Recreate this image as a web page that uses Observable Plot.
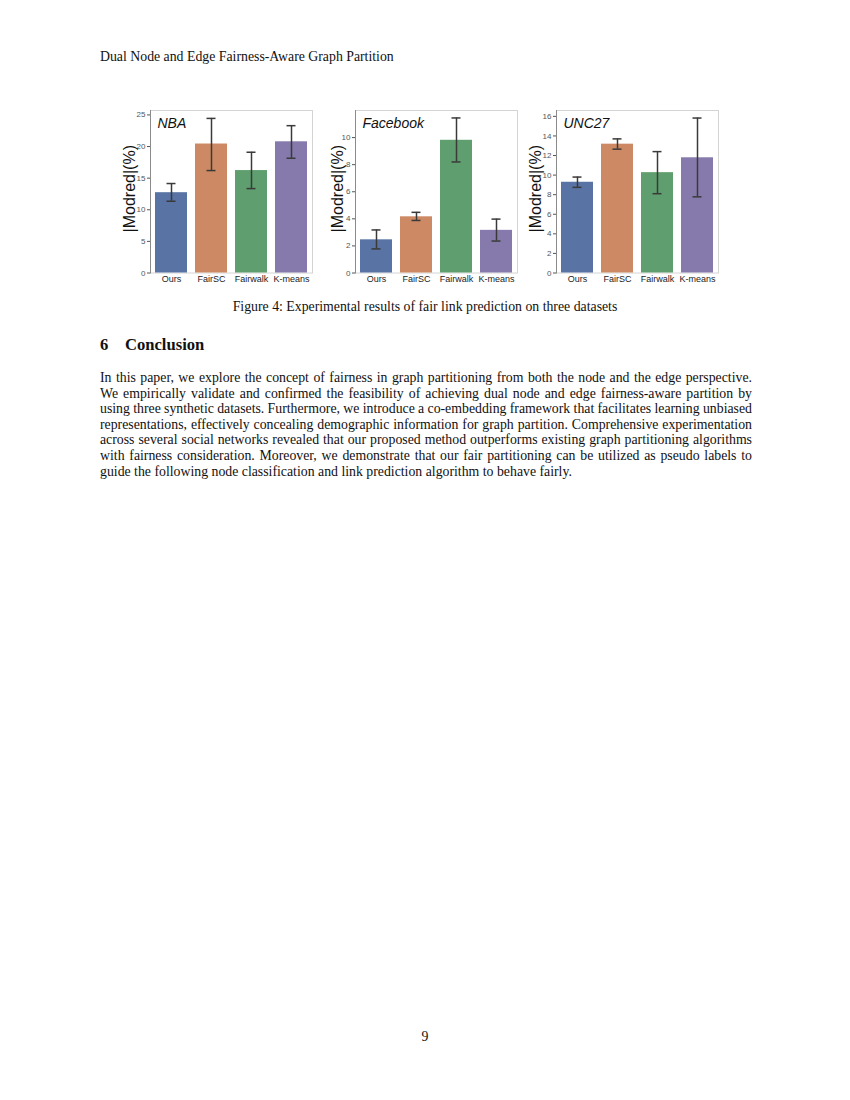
<!DOCTYPE html>
<html>
<head>
<meta charset="utf-8">
<script src="https://cdn.jsdelivr.net/npm/d3@7"></script>
<script src="https://cdn.jsdelivr.net/npm/@observablehq/plot@0.6"></script>
<style>
  html, body { margin: 0; padding: 0; background: #fff; }
  body { width: 850px; height: 1100px; position: relative; overflow: hidden;
         font-family: "Liberation Serif", "Times New Roman", serif; color: #111; }
  .abs { position: absolute; }
  .line { white-space: nowrap; text-align: justify; text-align-last: justify; height: 15.6px; line-height: 15.6px; word-spacing: -1px; }
  .line.last { text-align-last: left; word-spacing: 0; }
</style>
</head>
<body>
<div class="abs" style="left:100px; top:49px; font-size:13.8px; line-height:16px;">Dual Node and Edge Fairness-Aware Graph Partition</div>

<div id="c1" class="abs" style="left:110px; top:100px;"></div>
<div id="c2" class="abs" style="left:315px; top:100px;"></div>
<div id="c3" class="abs" style="left:516px; top:100px;"></div>

<div class="abs" style="left:0; width:850px; top:299px; text-align:center; font-size:13.8px; line-height:16px;">Figure 4: Experimental results of fair link prediction on three datasets</div>

<div class="abs" style="left:100px; top:335px; font-size:16.6px; line-height:20px; font-weight:bold;"><span>6</span><span style="position:absolute; left:25px;">Conclusion</span></div>

<div id="para" class="abs" style="left:100px; top:370px; width:652px; font-size:13.8px;"></div>

<div class="abs" style="left:0; width:850px; top:1029px; text-align:center; font-size:13.8px; line-height:16px;">9</div>

<script>
// ---- data ----
const methods = ["Ours", "FairSC", "Fairwalk", "K-means"];
const palette = ["#5873A4", "#CC8963", "#5F9E6E", "#857AAB"];

const nbaMean = [12.7, 20.4, 16.2, 20.75];
const nbaLo   = [11.35, 16.2, 13.35, 18.15];
const nbaHi   = [14.15, 24.45, 19.1, 23.3];

const fbMean = [2.45, 4.15, 9.8, 3.15];
const fbLo   = [1.78, 3.88, 8.2, 2.36];
const fbHi   = [3.18, 4.48, 11.45, 3.98];

const uncMean = [9.27, 13.16, 10.25, 11.77];
const uncLo   = [8.75, 12.65, 8.1, 7.78];
const uncHi   = [9.8, 13.7, 12.4, 15.83];

const nbaTicks = [0, 5, 10, 15, 20, 25];
const fbTicks  = [0, 2, 4, 6, 8, 10];
const uncTicks = [0, 2, 4, 6, 8, 10, 12, 14, 16];

const yLabel = "|Modred|(%)";

const paraLines = [
  "In this paper, we explore the concept of fairness in graph partitioning from both the node and the edge perspective.",
  "We empirically validate and confirmed the feasibility of achieving dual node and edge fairness-aware partition by",
  "using three synthetic datasets. Furthermore, we introduce a co-embedding framework that facilitates learning unbiased",
  "representations, effectively concealing demographic information for graph partition. Comprehensive experimentation",
  "across several social networks revealed that our proposed method outperforms existing graph partitioning algorithms",
  "with fairness consideration. Moreover, we demonstrate that our fair partitioning can be utilized as pseudo labels to",
  "guide the following node classification and link prediction algorithm to behave fairly."
];

// ---- paragraph ----
const para = document.getElementById("para");
paraLines.forEach((t, i) => {
  const d = document.createElement("div");
  d.className = "line" + (i === paraLines.length - 1 ? " last" : "");
  d.textContent = t;
  para.appendChild(d);
});

// ---- charts ----
function chart(title, mean, lo, hi, yMax, ticks, labelDx) {
  const rows = methods.map((m, i) => ({method: m, mean: mean[i], lo: lo[i], hi: hi[i]}));
  return Plot.plot({
    width: 210,
    height: 193,
    marginLeft: 40,
    marginRight: 8,
    marginTop: 10,
    marginBottom: 20.5,
    style: {fontFamily: "'Liberation Sans', Arial, sans-serif", background: "transparent", overflow: "visible"},
    x: {domain: methods, paddingInner: 0.19, paddingOuter: 0.1, label: null},
    y: {domain: [0, yMax], label: null},
    color: {domain: methods, range: palette},
    marks: [
      Plot.frame({stroke: "#d4d4d4"}),
      Plot.frame({anchor: "left", stroke: "#8a8a8a"}),
      Plot.barY(rows, {x: "method", y: "mean", fill: "method"}),
      Plot.ruleX(rows, {x: "method", y1: "lo", y2: "hi", stroke: "#3a3a3a", strokeWidth: 1.5}),
      Plot.tickY(rows, {x: "method", y: "lo", stroke: "#3a3a3a", strokeWidth: 1.5, insetLeft: 11.5, insetRight: 11.5}),
      Plot.tickY(rows, {x: "method", y: "hi", stroke: "#3a3a3a", strokeWidth: 1.5, insetLeft: 11.5, insetRight: 11.5}),
      Plot.axisY({ticks: ticks, tickSize: 3, tickPadding: 2, fontSize: 8, color: "#555", label: null}),
      Plot.axisX({tickSize: 0, tickPadding: 3, fontSize: 9, color: "#222", label: null}),
      Plot.text([yLabel], {frameAnchor: "left", textAnchor: "middle", dx: labelDx, dy: -3, rotate: -90, fontSize: 16, fill: "#111"}),
      Plot.text([title], {frameAnchor: "top-left", dx: 7, dy: 8, lineAnchor: "top", textAnchor: "start", fontSize: 14, fontStyle: "italic", fill: "#111"})
    ]
  });
}

document.getElementById("c1").appendChild(chart("NBA", nbaMean, nbaLo, nbaHi, 25.7, nbaTicks, -21));
document.getElementById("c2").appendChild(chart("Facebook", fbMean, fbLo, fbHi, 12.0, fbTicks, -18));
document.getElementById("c3").appendChild(chart("UNC27", uncMean, uncLo, uncHi, 16.6, uncTicks, -21));
</script>
</body>
</html>
